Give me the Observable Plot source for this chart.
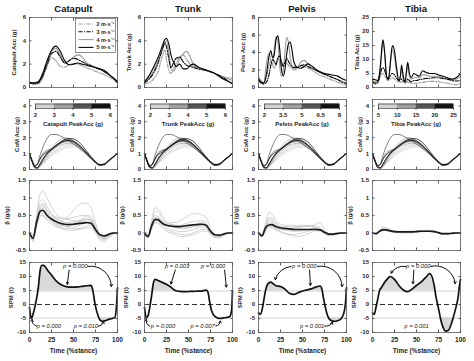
<!DOCTYPE html>
<html><head><meta charset="utf-8">
<script src="https://cdn.jsdelivr.net/npm/d3@7"></script>
<script src="https://cdn.jsdelivr.net/npm/@observablehq/plot@0.6"></script>
<style>
body{margin:0;background:#fff;}
#chart{position:relative;width:474px;height:361px;overflow:hidden;background:#fff;font-family:"Liberation Sans",Arial,sans-serif;}
</style></head><body><div id="chart"></div><script>
// ---------------- DATA ----------------
const sensors = ["Catapult","Trunk","Pelvis","Tibia"];
const speedLabels = ["2 m·s⁻¹","3 m·s⁻¹","4 m·s⁻¹","5 m·s⁻¹"];

// Row 1: sensor acceleration (g) per speed
const catapultTime = [0,5,10,15,20,25,30,35,40,45,50,55,60,65,70,75,80,85,90,95,100];
const catapultAcc2 = [0.5,0.3,0.3,0.8,1.8,2.55,2.3,1.8,1.75,1.95,2.05,2.0,1.85,1.7,1.55,1.4,1.25,1.1,0.9,0.7,0.45];
const catapultAcc3 = [0.4,0.3,0.4,1.0,2.0,2.9,3.1,2.6,2.1,2.3,2.5,2.4,2.2,2.0,1.85,1.7,1.55,1.35,1.1,0.85,0.55];
const catapultAcc4 = [0.4,0.35,0.45,1.1,2.2,3.1,3.35,2.8,2.1,2.3,2.6,2.8,2.6,2.1,1.9,1.75,1.6,1.4,1.1,0.85,0.5];
const catapultAcc5 = [0.4,0.4,0.5,1.2,2.3,3.2,3.55,3.1,2.3,1.95,2.0,2.1,2.0,1.9,1.8,1.7,1.6,1.45,1.15,0.8,0.4];

const trunkTime = [0,5,10,15,20,23,25,28,30,33,36,40,44,48,52,56,60,70,80,90,100];
const trunkAcc2 = [0.3,0.4,0.7,1.3,2.6,3.2,2.4,1.4,1.2,1.6,2.1,2.6,2.8,2.4,2.0,1.8,1.7,1.5,1.2,0.9,0.8];
const trunkAcc3 = [0.4,0.7,1.2,2.0,3.2,3.8,3.5,2.3,1.7,2.1,2.5,2.6,2.2,1.9,1.8,1.7,1.6,1.45,1.2,0.8,0.3];
const trunkAcc4 = [0.4,0.8,1.4,2.2,3.2,3.8,4.0,2.8,1.6,1.4,1.8,2.4,2.9,3.1,2.6,1.9,1.7,1.5,1.2,0.9,0.6];
const trunkAcc5 = [0.5,1.0,1.7,2.5,3.5,4.1,4.2,3.6,2.8,2.2,1.8,2.0,1.6,1.6,1.9,2.0,1.8,1.5,1.2,0.7,0.35];

const pelvisTime = [0,3,6,9,12,14,16,18,20,22,24,26,28,30,32,34,36,38,40,44,48,52,56,60,65,70,75,80,85,90,95,100];
const pelvisAcc2 = [1.1,0.8,0.6,1.2,2.5,3.0,2.6,2.2,2.8,3.3,3.0,2.5,2.6,3.0,2.8,2.5,2.3,2.2,2.2,2.3,2.5,2.4,2.2,2.0,1.7,1.4,1.2,1.0,0.8,0.6,0.4,0.3];
const pelvisAcc3 = [0.8,0.5,0.4,0.6,1.5,2.5,3.2,3.0,2.6,3.4,3.6,3.0,2.4,2.8,3.3,3.0,2.6,2.4,2.3,2.3,2.5,2.6,2.4,2.2,2.0,1.7,1.5,1.3,1.1,0.9,0.6,0.5];
const pelvisAcc4 = [1.3,0.6,0.5,2.8,3.9,3.0,2.6,4.5,5.8,5.2,2.5,1.3,1.8,4.0,5.7,5.2,3.5,2.4,2.0,2.2,2.9,3.1,2.7,2.3,2.0,1.8,1.5,1.3,1.1,0.9,0.7,0.5];
const pelvisAcc5 = [1.0,0.6,0.5,1.5,3.6,4.2,3.4,3.8,5.5,5.9,4.5,2.2,1.3,2.0,3.8,5.0,5.2,4.3,3.0,2.3,2.2,2.4,2.7,2.5,2.1,1.8,1.6,1.5,1.4,1.3,1.0,0.8];

const tibiaTime = [0,3,6,9,11,12,14,16,18,20,22,23,25,27,30,32,33,35,37,39,40,42,44,47,50,53,57,60,65,70,75,80,85,90,95,100];
const tibiaAcc2 = [2,1.2,1.5,4,5,5,4,3,2.5,3,3.5,3.5,3,2.5,2,2,2,1.8,1.5,1.8,2,1.8,1.5,1.5,1.5,1.7,1.8,2,2.2,2.2,2,1.8,1.5,1.2,1,1.5];
const tibiaAcc3 = [2,1.5,2,5,7,7,6,4,3,4,5,5,4.5,3.5,2.5,3,3,2.5,2,2.5,3,2.5,2,2.5,2.5,2.8,3,3.2,3.3,3.5,3.5,3.2,3,2.5,2.3,2.5];
const tibiaAcc4 = [2.5,2,2,7,14,16,11,3.5,2.5,7,13.5,13,11,6,2,4,7,3,2,6,8,4,3,3.5,3.5,3.5,4.5,4.5,4,4,4,3.5,3,2.8,3,4];
const tibiaAcc5 = [3,2.8,2.5,8,15.5,17,12,4,3,8,14,15,13,8,2.5,5,8,4,2,7,9,5,3.5,5,4.5,4,6,5.5,5,5,4.5,4,3.5,3,3.5,5];

const accYTicks = [[0,2,4,6],[0,2,4,6],[0,2,4,6,8],[0,5,10,15,20,25]];

// Row 2: CoM acceleration curves (g), shared by all sensors, coloured by sensor peak acc
const comTime = [0,3,6,9,12,16,20,25,30,35,40,45,50,55,60,65,70,75,80,85,90,95,100];
const com1  = [1.0,0.65,0.25,0.12,0.2,0.4,0.6,0.85,1.05,1.2,1.32,1.4,1.42,1.38,1.25,1.05,0.8,0.55,0.35,0.3,0.5,0.75,1.0];
const com2  = [1.0,0.6,0.2,0.1,0.2,0.45,0.7,0.95,1.15,1.3,1.42,1.5,1.5,1.42,1.25,1.0,0.75,0.5,0.3,0.28,0.5,0.75,1.0];
const com3  = [1.0,0.6,0.2,0.08,0.18,0.4,0.65,0.95,1.2,1.4,1.52,1.6,1.58,1.48,1.3,1.05,0.78,0.5,0.3,0.3,0.52,0.76,1.0];
const com4  = [1.0,0.55,0.15,0.06,0.2,0.5,0.8,1.1,1.35,1.52,1.62,1.65,1.6,1.45,1.22,0.95,0.68,0.42,0.25,0.3,0.55,0.78,1.0];
const com5  = [1.0,0.55,0.15,0.05,0.25,0.6,0.9,1.2,1.45,1.62,1.73,1.75,1.68,1.5,1.25,0.95,0.65,0.4,0.25,0.32,0.55,0.78,1.0];
const com6  = [1.0,0.5,0.12,0.1,0.35,0.75,1.05,1.3,1.52,1.7,1.8,1.8,1.7,1.52,1.28,1.0,0.7,0.45,0.28,0.35,0.58,0.8,1.0];
const com7  = [1.0,0.5,0.1,0.08,0.3,0.7,1.0,1.25,1.48,1.68,1.8,1.85,1.78,1.6,1.35,1.05,0.72,0.45,0.28,0.33,0.56,0.78,1.0];
const com8  = [1.0,0.5,0.2,0.3,0.7,1.05,1.2,1.3,1.5,1.72,1.88,1.9,1.8,1.6,1.35,1.05,0.75,0.48,0.3,0.35,0.58,0.8,1.0];
const com9  = [1.0,0.55,0.25,0.35,0.65,0.95,1.1,1.25,1.45,1.65,1.78,1.82,1.75,1.58,1.32,1.02,0.72,0.46,0.28,0.32,0.55,0.78,1.0];
const com10 = [1.0,0.5,0.15,0.12,0.35,0.7,0.98,1.25,1.5,1.72,1.88,1.95,1.92,1.78,1.5,1.15,0.8,0.5,0.3,0.32,0.55,0.78,1.0];
const com11 = [1.0,0.55,0.2,0.1,0.3,0.65,1.0,1.35,1.65,1.88,2.0,1.95,1.8,1.58,1.3,1.0,0.7,0.45,0.28,0.3,0.52,0.76,1.0];
const com12 = [1.0,0.5,0.2,0.35,0.9,1.5,1.95,2.2,2.2,2.1,1.95,1.78,1.6,1.4,1.18,0.95,0.7,0.48,0.32,0.35,0.56,0.78,1.0];
const peakCatapult = [2.3,2.5,2.8,3.2,3.6,4.3,4.6,4.8,5.3,5.6,3.1,4.4];
const peakTrunk    = [2.4,2.6,2.9,3.3,3.7,4.2,4.7,5.1,5.4,5.7,3.4,4.5];
const peakPelvis   = [2.5,3.0,3.3,4.0,4.6,5.4,5.8,6.2,7.0,7.5,3.8,5.9];
const peakTibia    = [6,8,9,11,13,16,17,19,21,23,12,18];
const catapultBarTicks = [2,3,4,5,6];
const trunkBarTicks    = [2,3,4,5,6];
const pelvisBarTicks   = [2,3.5,5,6.5,8];
const tibiaBarTicks    = [5,10,15,20,25];

// Row 3: beta (g/g)
const betaTime = [0,4,8,12,15,20,25,30,35,40,45,50,55,60,65,70,75,80,85,90,95,100];
const catapultBetaMean = [0,-0.15,0.3,0.62,0.65,0.5,0.4,0.33,0.28,0.25,0.24,0.25,0.27,0.28,0.3,0.28,0.1,-0.05,-0.08,-0.04,0,0];
const catapultBeta = [
 [0,-0.2,0.5,1.1,1.2,1.0,0.75,0.55,0.45,0.42,0.42,0.45,0.48,0.5,0.48,0.4,0.15,-0.1,-0.15,-0.08,0,0],
 [0,-0.15,0.4,0.9,0.95,0.75,0.55,0.4,0.35,0.4,0.5,0.65,0.78,0.85,0.85,0.7,0.3,-0.05,-0.15,-0.1,-0.02,0],
 [0,-0.1,0.35,0.8,0.85,0.65,0.5,0.45,0.42,0.4,0.38,0.35,0.35,0.38,0.4,0.38,0.15,-0.1,-0.12,-0.05,0,0],
 [0,-0.15,0.3,0.7,0.7,0.55,0.45,0.4,0.35,0.3,0.3,0.32,0.35,0.38,0.4,0.35,0.12,-0.05,-0.1,-0.05,0,0],
 [0,-0.2,0.25,0.6,0.65,0.5,0.35,0.25,0.2,0.2,0.22,0.25,0.3,0.35,0.38,0.33,0.1,-0.1,-0.15,-0.08,-0.02,0],
 [0,-0.1,0.25,0.55,0.55,0.45,0.35,0.3,0.25,0.2,0.15,0.12,0.12,0.15,0.2,0.22,0.05,-0.1,-0.18,-0.1,-0.02,0],
 [0,-0.25,0.2,0.5,0.5,0.35,0.25,0.18,0.15,0.12,0.12,0.15,0.2,0.25,0.28,0.25,0.05,-0.2,-0.25,-0.15,-0.03,0],
 [0,-0.1,0.3,0.68,0.75,0.65,0.55,0.45,0.35,0.3,0.28,0.28,0.3,0.32,0.3,0.25,0.08,-0.05,-0.08,-0.03,0,0],
 [0,-0.05,0.2,0.45,0.5,0.4,0.3,0.22,0.15,0.1,0.08,0.08,0.1,0.12,0.15,0.15,0.0,-0.15,-0.2,-0.1,0,0],
 [0,-0.2,0.35,0.72,0.8,0.6,0.4,0.28,0.22,0.18,0.18,0.22,0.3,0.4,0.5,0.48,0.2,-0.05,-0.1,-0.06,0,0]
];
const trunkBetaMean = [0,-0.1,0.2,0.38,0.38,0.28,0.22,0.2,0.18,0.18,0.2,0.22,0.23,0.24,0.25,0.22,0.05,-0.05,-0.06,-0.03,0,0];
const trunkBeta = [
 [0,-0.1,0.35,0.72,0.7,0.5,0.35,0.3,0.3,0.35,0.42,0.5,0.55,0.55,0.52,0.45,0.15,-0.05,-0.1,-0.05,0,0],
 [0,-0.12,0.3,0.62,0.6,0.42,0.3,0.25,0.22,0.22,0.25,0.3,0.33,0.35,0.35,0.3,0.08,-0.08,-0.1,-0.05,0,0],
 [0,-0.08,0.25,0.5,0.48,0.35,0.28,0.25,0.22,0.2,0.2,0.22,0.25,0.28,0.3,0.25,0.05,-0.08,-0.1,-0.04,0,0],
 [0,-0.1,0.2,0.42,0.42,0.32,0.22,0.18,0.15,0.12,0.12,0.14,0.18,0.22,0.25,0.22,0.04,-0.08,-0.12,-0.06,0,0],
 [0,-0.05,0.15,0.35,0.35,0.25,0.15,0.1,0.06,0.04,0.04,0.06,0.1,0.15,0.18,0.15,0.0,-0.12,-0.15,-0.06,0,0],
 [0,-0.12,0.1,0.28,0.3,0.2,0.1,0.05,0.0,-0.03,-0.05,-0.04,0.0,0.05,0.1,0.1,-0.02,-0.1,-0.12,-0.05,0,0],
 [0,-0.08,0.22,0.45,0.45,0.32,0.25,0.2,0.18,0.16,0.15,0.16,0.18,0.2,0.22,0.2,0.03,-0.05,-0.07,-0.03,0,0],
 [0,-0.15,0.12,0.3,0.28,0.15,0.05,0.0,-0.05,-0.1,-0.1,-0.08,-0.05,0.0,0.05,0.05,-0.05,-0.12,-0.1,-0.05,0,0]
];
const pelvisBetaMean = [0,-0.08,0.15,0.23,0.24,0.18,0.15,0.13,0.12,0.1,0.1,0.1,0.1,0.1,0.1,0.09,0.02,-0.03,-0.03,-0.01,0,0];
const pelvisBeta = [
 [0,-0.08,0.3,0.6,0.55,0.35,0.25,0.22,0.22,0.22,0.2,0.18,0.18,0.2,0.25,0.3,0.1,-0.03,-0.05,-0.02,0,0],
 [0,-0.1,0.2,0.45,0.42,0.28,0.2,0.18,0.18,0.18,0.18,0.18,0.2,0.22,0.2,0.15,0.05,-0.05,-0.06,-0.02,0,0],
 [0,-0.06,0.15,0.35,0.33,0.2,0.12,0.1,0.12,0.15,0.2,0.22,0.22,0.2,0.15,0.1,0.02,-0.05,-0.05,-0.02,0,0],
 [0,-0.1,0.12,0.28,0.28,0.18,0.1,0.08,0.06,0.05,0.05,0.06,0.08,0.1,0.12,0.1,0.0,-0.06,-0.05,-0.02,0,0],
 [0,-0.05,0.1,0.22,0.22,0.12,0.05,0.0,-0.05,-0.08,-0.1,-0.08,-0.03,0.02,0.06,0.06,-0.02,-0.08,-0.06,-0.02,0,0],
 [0,-0.08,0.08,0.18,0.18,0.12,0.1,0.1,0.1,0.12,0.15,0.18,0.2,0.18,0.12,0.08,0.0,-0.04,-0.04,-0.02,0,0],
 [0,-0.06,0.18,0.4,0.38,0.25,0.15,0.12,0.1,0.08,0.08,0.08,0.1,0.12,0.15,0.12,0.02,-0.05,-0.05,-0.02,0,0],
 [0,-0.1,0.05,0.15,0.15,0.08,0.02,-0.02,-0.04,-0.05,-0.03,0.0,0.04,0.08,0.1,0.08,-0.02,-0.06,-0.05,-0.02,0,0]
];
const tibiaBetaMean = [0,-0.02,0.05,0.09,0.09,0.06,0.04,0.03,0.03,0.03,0.03,0.04,0.05,0.05,0.05,0.04,0.01,-0.02,-0.02,-0.01,0,0];
const tibiaBeta = [
 [0,-0.03,0.08,0.18,0.16,0.1,0.06,0.05,0.05,0.05,0.05,0.06,0.07,0.08,0.08,0.06,0.01,-0.03,-0.03,-0.01,0,0],
 [0,-0.02,0.06,0.14,0.13,0.08,0.05,0.04,0.04,0.04,0.05,0.06,0.06,0.07,0.07,0.05,0.0,-0.03,-0.02,-0.01,0,0],
 [0,-0.03,0.05,0.11,0.1,0.06,0.03,0.02,0.02,0.02,0.03,0.04,0.05,0.06,0.06,0.05,0.0,-0.04,-0.03,-0.01,0,0],
 [0,-0.02,0.04,0.09,0.09,0.05,0.02,0.01,0.0,0.0,0.01,0.02,0.03,0.04,0.05,0.04,-0.01,-0.04,-0.03,-0.01,0,0],
 [0,-0.01,0.03,0.07,0.07,0.04,0.03,0.03,0.03,0.03,0.04,0.05,0.06,0.06,0.05,0.03,0.0,-0.02,-0.02,-0.01,0,0],
 [0,-0.03,0.06,0.12,0.12,0.08,0.04,0.02,0.01,0.01,0.02,0.03,0.04,0.05,0.06,0.05,0.0,-0.03,-0.03,-0.01,0,0]
];

// Row 4: SPM{t}
const spmTime = [0,2,4,6,8,10,12,14,16,18,20,25,30,35,40,45,50,55,60,65,70,72,74,76,78,80,83,86,90,94,97,99,100];
const catapultSpm = [-1,-5,-3.5,-1,2,6,12,14,14,13.5,12.5,10.5,8.5,7.2,6.5,6.2,6.2,6.3,6.5,6.7,6.8,5,1,-2,-4,-5.5,-6,-5.8,-5.3,-5,-4.6,0,6];
const trunkSpm    = [-1,-4.8,-4,-1,3,7.5,9,8.8,8.5,8.2,7.9,7.2,6.2,5,4.7,4.6,4.65,4.7,4.75,4.8,5.1,4.5,1,-2,-3.5,-4.2,-4.8,-5,-4.8,-4.6,-4.3,-2,5];
const pelvisSpm   = [-3,-3.5,-2,1.5,5,7,7.8,8,7.6,7.1,6.7,6.4,5.5,4,3.6,4.2,4.8,5.2,5.6,6.2,6.6,5.5,2,-1,-3.5,-5,-5.8,-6,-5.8,-5,-3,1,6];
const tibiaSpm    = [-3,-3.5,-1,2,5,6,7,8,8.8,9.5,10,9,6.8,5.2,4.6,5.5,6.8,8,9.5,11,7,3,0,-3,-6,-8,-9.5,-9.3,-6.5,-2,2,7,9];
const spmThreshold = [4.8,4.8,4.8,4.8];
const spmLabels = [
 {s:0,t:52,y:13.6,text:"p = 0.000"},{s:0,t:22,y:-7.7,text:"p = 0.000"},{s:0,t:64,y:-7.7,text:"p = 0.010"},
 {s:1,t:37,y:13.6,text:"p = 0.003"},{s:1,t:78,y:13.6,text:"p = 0.000"},{s:1,t:21,y:-7.7,text:"p = 0.000"},{s:1,t:66,y:-7.7,text:"p = 0.007"},
 {s:2,t:52,y:13.6,text:"p = 0.000"},{s:2,t:61,y:-7.7,text:"p = 0.001"},
 {s:3,t:52,y:13.6,text:"p = 0.000"},{s:3,t:50,y:-7.7,text:"p = 0.001"}
];
const spmArrows = [
 {s:0,x1:45,y1:12.3,x2:43,y2:7.2,bend:0},{s:0,x1:66,y1:13.6,x2:93,y2:6.4,bend:50},
 {s:0,x1:8,y1:-7.7,x2:3,y2:-5.3,bend:40},{s:0,x1:78,y1:-7.7,x2:84,y2:-6.1,bend:-40},
 {s:1,x1:35,y1:12.3,x2:30,y2:7.3,bend:0},{s:1,x1:91,y1:12.3,x2:93,y2:6.2,bend:0},
 {s:1,x1:6,y1:-7.7,x2:2,y2:-5.3,bend:40},{s:1,x1:81,y1:-7.7,x2:86,y2:-5.9,bend:-40},
 {s:2,x1:37,y1:13.6,x2:19,y2:8.9,bend:-35},{s:2,x1:58,y1:12.3,x2:59,y2:6.8,bend:0},
 {s:2,x1:67,y1:13.6,x2:95,y2:6.4,bend:50},{s:2,x1:75,y1:-7.7,x2:84,y2:-6.3,bend:-40},
 {s:3,x1:38,y1:13.6,x2:21,y2:11.2,bend:-35},{s:3,x1:47,y1:12.3,x2:46,y2:7.4,bend:0},
 {s:3,x1:66,y1:13.6,x2:94,y2:7.4,bend:50}
];
const timeTicks = [0,25,50,75,100];

// ---------------- LAYOUT / STYLE ----------------
const colX = [29.3,144,258,372];
const rowTop = [16.7,99,180.2,261.7];
const FW = 88, FH = 70;
const ML = 26, MR = 3, MT = 4;
const speedStroke = ["#9a9a9a","#000","#9a9a9a","#000"];
const speedDash = ["4,1.5,1,1.5","4,1.5,1,1.5",null,null];
const binGrays = ["#d2d2d2","#a0a0a0","#555555","#111111"];
const baseStyle = {background:"transparent",fontFamily:"'Liberation Sans',Arial,sans-serif",fontSize:"6px",fontWeight:"bold",color:"#262626",overflow:"visible"};
const chart = document.getElementById("chart");

function tidy(time, list){
  return list.flatMap((vals,k)=>vals.map((v,i)=>({t:time[i],v,k})));
}
function place(svg,left,top){
  svg.style.position="absolute"; svg.style.left=left+"px"; svg.style.top=top+"px";
  chart.appendChild(svg);
}
function panel(col,row,{domain,ticks,label,labelOffset,marks}){
  const mb = row===3 ? 29 : 4;
  const lastRow = row===3;
  const svg = Plot.plot({
    width: ML+FW+MR, height: MT+FH+mb,
    marginLeft: ML, marginRight: MR, marginTop: MT, marginBottom: mb,
    style: baseStyle,
    x: {domain:[0,100]},
    y: {domain},
    marks: [
      ...marks,
      Plot.frame({stroke:"#5a5a5a",strokeWidth:0.8}),
      Plot.axisX({ticks:timeTicks,tickSize:-2.5,tickPadding:7,stroke:"#5a5a5a",
        tickFormat: lastRow ? (d=>String(d)) : (()=>null),
        label: lastRow ? "Time (%stance)" : null, labelAnchor:"center", labelOffset:20, labelArrow:"none", fontSize: lastRow?6.5:6}),
      Plot.axisX({anchor:"top",ticks:timeTicks,tickSize:-2.5,stroke:"#5a5a5a",tickFormat:()=>null,label:null}),
      Plot.axisY({ticks,tickSize:-2.5,tickPadding:6,stroke:"#5a5a5a",tickFormat:d=>String(d),
        label, labelAnchor:"center", labelOffset, labelArrow:"none"}),
      Plot.axisY({anchor:"right",ticks,tickSize:-2.5,stroke:"#5a5a5a",tickFormat:()=>null,label:null})
    ]
  });
  place(svg, colX[col]-ML, rowTop[row]-MT);
}

// Row 1
const accTimes = [catapultTime,trunkTime,pelvisTime,tibiaTime];
const accSeries = [
  [catapultAcc2,catapultAcc3,catapultAcc4,catapultAcc5],
  [trunkAcc2,trunkAcc3,trunkAcc4,trunkAcc5],
  [pelvisAcc2,pelvisAcc3,pelvisAcc4,pelvisAcc5],
  [tibiaAcc2,tibiaAcc3,tibiaAcc4,tibiaAcc5]
];
const accDomains = [[0,6],[0,6],[0,8],[0,25]];
sensors.forEach((s,c)=>{
  const rows = tidy(accTimes[c], accSeries[c]);
  const marks = [0,2,1,3].map(k=>Plot.line(rows.filter(d=>d.k===k),{x:"t",y:"v",stroke:speedStroke[k],
    strokeDasharray:speedDash[k]||undefined,strokeWidth:1.1,curve:"monotone-x"}));
  panel(c,0,{domain:accDomains[c],ticks:accYTicks[c],label:s+" Acc (g)",labelOffset:18,marks});
});

// Row 2
const comCurves = [com1,com2,com3,com4,com5,com6,com7,com8,com9,com10,com11,com12];
const peaks = [peakCatapult,peakTrunk,peakPelvis,peakTibia];
const barTicks = [catapultBarTicks,trunkBarTicks,pelvisBarTicks,tibiaBarTicks];
sensors.forEach((s,c)=>{
  const rows = tidy(comTime, comCurves).map(d=>({...d,peak:peaks[c][d.k]}));
  rows.sort((a,b)=>a.peak-b.peak || a.k-b.k || a.t-b.t);
  const color = d3.scaleThreshold().domain(barTicks[c].slice(1,4)).range(binGrays);
  const marks = [Plot.line(rows,{x:"t",y:"v",z:"k",stroke:d=>color(d.peak),strokeWidth:0.75,curve:"monotone-x"})];
  panel(c,1,{domain:[0,4.4],ticks:[0,1,2,3,4],label:"CoM Acc (g)",labelOffset:15,marks});
  // colourbar
  const e = barTicks[c];
  const bins = [0,1,2,3].map(i=>({lo:e[i],hi:e[i+1],g:binGrays[i]}));
  const bar = Plot.plot({
    width:85,height:24,marginLeft:5,marginRight:5,marginTop:0.5,marginBottom:19,
    style: baseStyle,
    x:{domain:[e[0],e[4]]},
    marks:[
      Plot.rect(bins,{x1:"lo",x2:"hi",fill:"g"}),
      Plot.frame({stroke:"#222",strokeWidth:0.6}),
      Plot.axisX({ticks:e,tickSize:1.5,tickPadding:2.5,stroke:"#222",tickFormat:d=>String(d),
        label:s+" PeakAcc (g)",labelAnchor:"center",labelOffset:17.5,labelArrow:"none"})
    ]
  });
  place(bar, colX[c]+1, 102.5);
});

// Row 3
const betaMeans = [catapultBetaMean,trunkBetaMean,pelvisBetaMean,tibiaBetaMean];
const betaSets = [catapultBeta,trunkBeta,pelvisBeta,tibiaBeta];
sensors.forEach((s,c)=>{
  const gray = tidy(betaTime, betaSets[c]);
  const mean = tidy(betaTime, [betaMeans[c]]);
  const marks = [
    Plot.line(gray,{x:"t",y:"v",z:"k",stroke:"#c6c6c6",strokeWidth:0.75,curve:"monotone-x"}),
    Plot.line(mean,{x:"t",y:"v",stroke:"#1a1a1a",strokeWidth:1.7,curve:"monotone-x"})
  ];
  panel(c,2,{domain:[-0.5,1.5],ticks:[-0.5,0,0.5,1,1.5],label:"β (g/g)",labelOffset:25,marks});
});

// Row 4
const spmSeries = [catapultSpm,trunkSpm,pelvisSpm,tibiaSpm];
sensors.forEach((s,c)=>{
  const thr = spmThreshold[c];
  const rows = tidy(spmTime,[spmSeries[c]]);
  const arrows = spmArrows.filter(d=>d.s===c);
  const bends = [...new Set(arrows.map(d=>d.bend))];
  const marks = [
    Plot.areaY(rows,{x:"t",y1:thr,y2:d=>Math.max(d.v,thr),fill:"#d9d9d9"}),
    Plot.areaY(rows,{x:"t",y1:-thr,y2:d=>Math.min(d.v,-thr),fill:"#d9d9d9"}),
    Plot.ruleY([thr,-thr],{stroke:"#c8c8c8",strokeWidth:0.8}),
    Plot.ruleY([0],{stroke:"#333",strokeWidth:1,strokeDasharray:"5,3"}),
    Plot.line(rows,{x:"t",y:"v",stroke:"#111",strokeWidth:1.7,curve:"monotone-x"}),
    ...bends.map(b=>Plot.arrow(arrows.filter(d=>d.bend===b),{x1:"x1",y1:"y1",x2:"x2",y2:"y2",bend:b,
      stroke:"#111",strokeWidth:1,headLength:3.5})),
    Plot.text(spmLabels.filter(d=>d.s===c),{x:"t",y:"y",text:"text",fontStyle:"italic",fontWeight:"normal",fontSize:5.8,fill:"#222"})
  ];
  panel(c,3,{domain:[-10,15],ticks:[-10,-5,0,5,10,15],label:"SPM {t}",labelOffset:21,marks});
});

// Titles and speed legend (overlay)
const ov = d3.select(chart).append("svg")
  .attr("width",474).attr("height",361)
  .style("position","absolute").style("left","0px").style("top","0px").style("pointer-events","none")
  .style("font-family","'Liberation Sans',Arial,sans-serif");
ov.selectAll("text.title").data(sensors).join("text").attr("class","title")
  .attr("x",(d,i)=>colX[i]+FW/2).attr("y",12.4).attr("text-anchor","middle")
  .attr("font-size",9.5).attr("font-weight","bold").attr("fill","#111").text(d=>d);
const lg = ov.append("g").attr("transform","translate(75.5,18.5)");
lg.append("rect").attr("width",40).attr("height",34).attr("fill","#fff").attr("stroke","#444").attr("stroke-width",0.6);
const items = lg.selectAll("g.it").data(speedLabels).join("g").attr("class","it")
  .attr("transform",(d,i)=>`translate(0,${5.5+i*7.8})`);
items.append("line").attr("x1",3).attr("x2",18).attr("y1",0).attr("y2",0)
  .attr("stroke",(d,i)=>speedStroke[i]).attr("stroke-width",1.05)
  .attr("stroke-dasharray",(d,i)=>speedDash[i]);
items.append("text").attr("x",21).attr("y",2).attr("font-size",5.4).attr("font-weight","bold")
  .attr("fill","#222").attr("xml:space","preserve").style("white-space","pre").text(d=>d);
</script></body></html>
